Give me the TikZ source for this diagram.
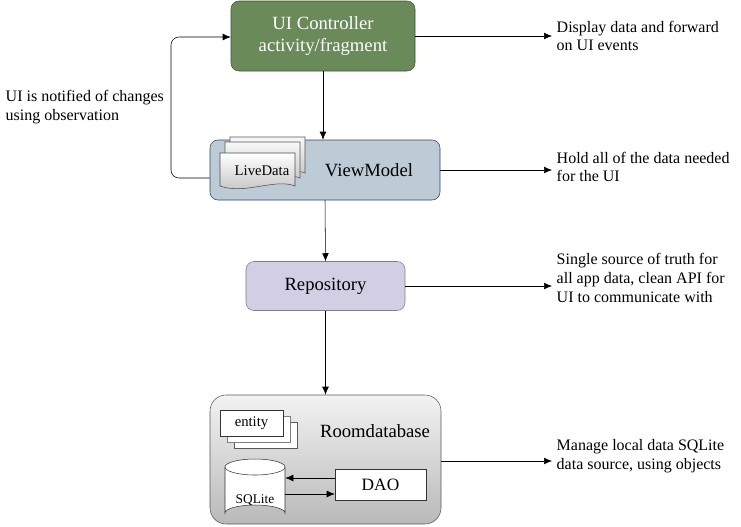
\documentclass[tikz,border=0pt]{standalone}
\usepackage{fontspec}
\setmainfont{Liberation Serif}
\usetikzlibrary{arrows.meta}
\definecolor{ctrlgreen}{RGB}{106,138,90}
\definecolor{vmfill}{RGB}{188,203,214}
\definecolor{vmline}{RGB}{40,70,100}
\definecolor{repofill}{RGB}{210,206,228}
\tikzset{
  box/.style={draw=vmline, rounded corners=6pt, align=center, font=\fontsize{14}{16}\selectfont},
  lbl/.style={anchor=west, align=left, font=\fontsize{12}{14}\selectfont},
  arr/.style={-{Latex[length=6pt,width=5pt]}}
}
\begin{document}
\begin{tikzpicture}[x=0.75pt,y=-0.75pt]
\useasboundingbox (0,0) rectangle (741,526);
% boxes
\node[box, fill=ctrlgreen, draw=ctrlgreen!60!black, text=white, minimum width=184*0.75pt, minimum height=70*0.75pt] (ui) at (323,36) {UI Controller\\activity/fragment};
\node[box, fill=vmfill, minimum width=230*0.75pt, minimum height=60*0.75pt] (vm) at (325,170) {};
\node[font=\fontsize{14}{16}\selectfont] (vmt) at (369,170) {ViewModel};
\node[box, fill=repofill, draw=repofill!60!black, minimum width=159*0.75pt, minimum height=49*0.75pt] (repo) at (325.5,286) {Repository};
\node[box, draw=gray!70!black, top color=gray!10, bottom color=gray!55, rounded corners=12pt, minimum width=231*0.75pt, minimum height=129*0.75pt] (room) at (325.5,459.5) {};
\node[font=\fontsize{14}{16}\selectfont] (roomt) at (375,431) {Roomdatabase};
% LiveData stack
\foreach \d in {10,5}{
  \draw[gray!70!black, top color=gray!5, bottom color=gray!50]
    (220+\d,147-\d) -- (295+\d,147-\d) -- (295+\d,183-\d)
    .. controls (275+\d,175-\d) and (245+\d,192-\d) .. (220+\d,183-\d) -- cycle;
}
\draw[gray!60!black, top color=white, bottom color=gray!50]
  (220,153) -- (295,153) -- (295,186)
  .. controls (275,178) and (245,195) .. (220,186) -- cycle;
\node[font=\fontsize{11}{13}\selectfont] (ld) at (262,171) {LiveData};
% entity stack
\draw[gray!70!black, fill=white] (234,422) rectangle (297,448);
\draw[gray, fill=white] (227,416) rectangle (290,442);
\node[draw=black!80, fill=white, minimum width=63*0.75pt, minimum height=26*0.75pt, font=\fontsize{11}{13}\selectfont] (ent) at (251.5,423) {entity};
% SQLite cylinder
\draw[black!80, fill=white] (225,467) -- (225,513) arc[start angle=180, end angle=360, x radius=30, y radius=8] -- (285,467);
\draw[black!80, fill=white] (255,467) ellipse[x radius=30, y radius=8];
\node[font=\fontsize{10}{12}\selectfont, minimum width=60*0.75pt, minimum height=54*0.75pt] (sql) at (255,494) {};
\node[font=\fontsize{10}{12}\selectfont] (sqlt) at (255,500) {SQLite};
\node[draw=black!80, fill=white, minimum width=91*0.75pt, minimum height=31*0.75pt, font=\fontsize{13}{15}\selectfont] (dao) at (380.5,485) {DAO};
\draw[arr] (dao.west |- 0,478) -- (sql.east |- 0,478);
\draw[arr] (sql.east |- 0,494) -- (dao.west |- 0,494);
% vertical flow
\draw[arr] (ui.south) -- (vm.north -| ui.south);
\draw[arr] (vm.south) -- (repo.north);
\draw[arr] (repo.south) -- (room.north);
% feedback
\coordinate (fb) at (171,178);
\draw[arr, rounded corners=6pt] (vm.west |- fb) -- (fb) -- (171,37) -- (ui.west |- 0,37);
% right labels
\node[lbl] (t1) at (552,36) {Display data and forward\\on UI events};
\node[lbl] (t2) at (552,167) {Hold all of the data needed\\for the UI};
\node[lbl] (t3) at (552,278) {Single source of truth for\\all app data, clean API for\\UI to communicate with};
\node[lbl] (t4) at (552,456) {Manage local data SQLite\\data source, using objects};
\node[lbl] (t5) at (1,107) {UI is notified of changes\\using observation};
\draw[arr] (ui.east) -- (t1.west);
\draw[arr] (vm.east) -- (t2.west |- vm.east);
\draw[arr] (repo.east) -- (t3.west |- repo.east);
\draw[arr] (room.east |- 0,461) -- (t4.west |- 0,461);
\end{tikzpicture}
\end{document}
